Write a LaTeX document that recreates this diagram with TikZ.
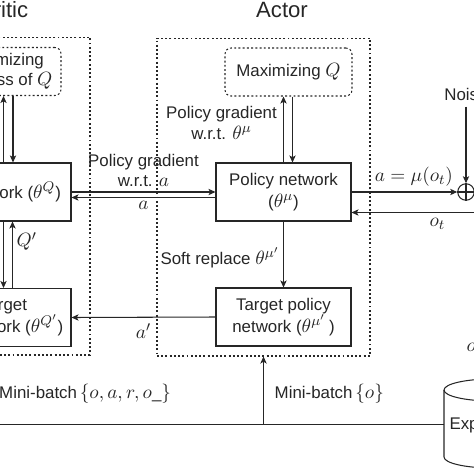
\documentclass[tikz,border=0pt]{standalone}
\usepackage{fontspec}
\setmainfont{Liberation Sans}
\DeclareMathSizes{9.6}{11.2}{8.2}{6.5}
\usetikzlibrary{arrows.meta,positioning,calc}

\begin{document}
\begin{tikzpicture}[x=0.02cm, y=-0.02cm, line width=0.6pt, color=black!85,
    font=\fontsize{9.6}{11.5}\selectfont,
    >={Stealth[length=4pt,width=3.6pt,inset=1pt]},
    net/.style={draw, minimum width=2.7cm, minimum height=1.16cm, align=center, inner sep=1pt,
        font=\fontsize{9.6}{12.6}\selectfont},
    obj/.style={draw, dash pattern=on 1.1pt off 1.3pt, rounded corners=3.5pt,
        minimum height=0.96cm, align=center, inner sep=1pt},
    group/.style={draw, dash pattern=on 1.1pt off 1.3pt, minimum width=4.26cm, minimum height=6.36cm},
    head/.style={font=\fontsize{12.6}{15}\selectfont, inner sep=0pt},
    lbl/.style={inner sep=2pt}]
    \useasboundingbox (0,0) rectangle (474,474);
    \clip (0,0) rectangle (474,474);

    % critic and actor groups
    \node[group, minimum width=4.08cm] (critic) at (-12,196) {};
    \node[group] (actor) at (263.5,197) {};
    \node[head] (critictitle) at (3,9.5) {Critic};
    \node[head] (actortitle) at (282,9.5) {Actor};

    \node[obj, minimum width=2.28cm] (minq) at (4,71.5) {Minimizing\\the loss of $Q$};
    \node[obj, minimum width=2.54cm] (maxq) at (288.5,72) {Maximizing $Q$};

    \node[net] (qnet) at (3.5,192) {Q network ($\theta^Q$)};
    \node[net] (tq) at (3.5,317.5) {Target\\Q network ($\theta^{Q'}$)};
    \node[net] (pol) at (283.5,192) {Policy network\\($\theta^{\mu}$)};
    \node[net] (tpol) at (283.5,317) {Target policy\\network ($\theta^{\mu'}\,$)};

    % noise is added to the action
    \node[circle, draw, minimum size=0.33cm, inner sep=0pt] (sum) at (466,192) {};
    \draw (sum.north) -- (sum.south) (sum.west) -- (sum.east);
    \node (noise) at (466,94) {Noise};

    % critic updates
    \draw[->] (qnet.north) -- (qnet.north |- minq.south);
    \draw[->] ($(qnet.north |- minq.south)+(9.5,0)$) -- ($(qnet.north)+(9.5,0)$);
    \draw[->] (qnet.south) -- (qnet.south |- tq.north);
    \draw[->] ($(qnet.south |- tq.north)+(9,0)$) -- node[right, lbl, pos=0.7] {$Q'$} ($(qnet.south)+(9,0)$);

    % actor updates
    \draw[->] (pol.north) -- node[left=2pt, inner sep=1.5pt, pos=0.6, align=center] {Policy gradient\\w.r.t. $\theta^{\mu}$} (pol.north |- maxq.south);
    \draw[->] ($(pol.north |- maxq.south)+(9,0)$) -- ($(pol.north)+(9,0)$);
    \draw[->] (pol.south) -- node[left, lbl, pos=0.55] {Soft replace $\theta^{\mu'}$} (tpol.north);

    % between the two groups
    \draw[->] (qnet.east) -- node[above, inner sep=2.7pt, align=center] {Policy gradient\\w.r.t. $a$} (pol.west);
    \draw[->] ($(pol.west)+(0,5.5)$) -- node[below, lbl] {$a$} ($(qnet.east)+(0,5.5)$);
    \draw[->] (tpol.west) -- node[below, inner sep=3.5pt] {$a'$} (tq.east);

    % environment side
    \coordinate (envout) at (520,192);
    \coordinate (envin) at (520,212.5);
    \draw[->] (pol.east) -- node[above, pos=0.59, inner sep=3pt] {$a=\mu(o_t)$} (sum.west);
    \draw (sum.east) -- (envout);
    \draw[->] (noise) -- (sum.north);
    \draw[->] (envin) -- node[below, pos=0.49, inner sep=3pt] {$o_t$} (pol.east |- envin);
    \node[anchor=west, inner sep=0pt] (trans) at (466,350) {$o_{t+1}$};

    % replay buffer
    \draw (444,390) -- (444,457) arc[start angle=180, end angle=0, x radius=48, y radius=11] -- (540,390);
    \draw (492,390) ellipse [x radius=48, y radius=11];
    \node[anchor=west, inner sep=0pt] (buftext) at (449,425) {Experience replay buffer};
    \coordinate (buf) at (444,424.3);

    \draw[->, line width=0.8pt] (buf) -- (buf -| critic.south) -- node[right=5pt, inner sep=1pt, pos=0.45] {Mini-batch\,$\{o,a,r,o\_\}$} (critic.south);
    \draw[->, line width=0.8pt] (buf -| actor.south) -- node[right=5pt, inner sep=1pt, pos=0.45] {Mini-batch\,$\{o\}$} (actor.south);
\end{tikzpicture}
\end{document}
